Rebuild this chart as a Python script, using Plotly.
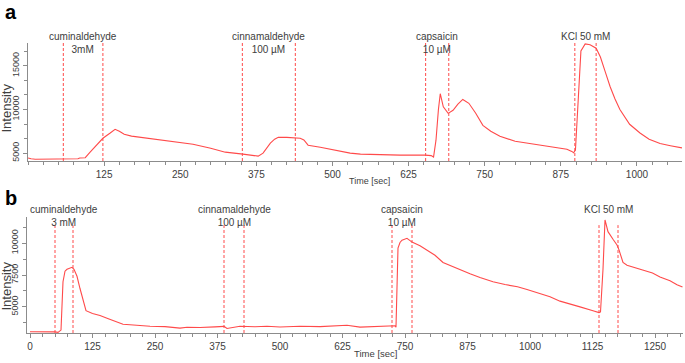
import plotly.graph_objects as go

# ---------------- data ----------------
a_time = [0, 5, 12, 40, 70, 82, 85, 94, 102, 112, 123, 135, 143, 150, 158, 170, 184, 210, 242, 271,
          300, 324, 353, 370, 378, 386, 392, 398, 405, 411, 425, 439, 447, 453, 460, 480, 505, 529,
          546, 580, 611, 652, 662, 666, 670, 674, 677, 682, 690, 698, 706, 714, 724, 735, 747, 760,
          775, 800, 829, 860, 885, 893, 896, 899, 903, 908, 915, 923, 933, 940, 948, 956, 964, 972,
          988, 1005, 1020, 1038, 1055, 1074]
a_intensity = [4450, 4350, 4300, 4330, 4350, 4360, 4450, 4480, 5110, 5900, 6700, 7300, 7730, 7500,
               7160, 6950, 6820, 6600, 6360, 6020, 5550, 5110, 4890, 4750, 4660, 5000, 5600, 6140,
               6600, 6820, 6800, 6700, 6700, 6500, 5910, 5680, 5350, 5000, 4890, 4820, 4770, 4770,
               4720, 4550, 6480, 10000, 11800, 10300, 9550, 9900, 10600, 11140, 10700, 9600, 8180,
               7500, 6930, 6350, 6020, 5700, 5450, 5200, 5050, 5340, 11020, 16700, 17500, 17400,
               17000, 16000, 14300, 12600, 11200, 10000, 8300, 7300, 6600, 6100, 5850, 5600]

b_time = [0, 20, 50, 56, 60, 62, 66, 70, 74, 80, 84, 88, 94, 100, 106, 112, 125, 140, 158, 174, 186,
          200, 240, 270, 300, 314, 340, 370, 388, 394, 400, 420, 450, 474, 500, 540, 580, 634, 660,
          700, 724, 730, 732, 734, 736, 740, 744, 754, 764, 780, 794, 810, 826, 840, 860, 880, 900,
          926, 950, 975, 994, 1020, 1040, 1060, 1080, 1100, 1126, 1138, 1141, 1146, 1150, 1156,
          1166, 1174, 1178, 1182, 1186, 1194, 1210, 1226, 1245, 1260, 1280, 1294, 1305]
b_intensity = [3050, 3060, 3040, 3000, 3100, 3180, 6970, 7800, 7950, 8050, 8100, 7950, 7400, 6440,
               5500, 4700, 4480, 4320, 4050, 3790, 3640, 3600, 3480, 3450, 3330, 3400, 3380, 3430,
               3470, 3300, 3330, 3480, 3440, 3480, 3420, 3480, 3450, 3560, 3410, 3440, 3480, 3520,
               3400, 6740, 9620, 10050, 10230, 10380, 10080, 9800, 9470, 9050, 8480, 8250, 7880,
               7600, 7300, 6970, 6750, 6580, 6360, 6050, 5800, 5450, 5250, 5000, 4700, 4550, 4600,
               7950, 11820, 10900, 10300, 9850, 9470, 9000, 8480, 8260, 8080, 7880, 7650, 7350,
               7050, 6740, 6550]

stim_labels_a = ["cuminaldehyde<br>3mM", "cinnamaldehyde<br>100 µM", "capsaicin<br>10 µM", "KCl 50 mM"]
stim_labels_b = ["cuminaldehyde<br>3 mM", "cinnamaldehyde<br>100 µM", "capsaicin<br>10 µM", "KCl 50 mM"]
stim_a = [(58, 123), (352, 439), (653, 691), (898, 933)]
stim_b = [(50, 86), (388, 428), (724, 764), (1138, 1176)]

a_xticks = [125, 250, 375, 500, 625, 750, 875, 1000]
b_xticks = [0, 125, 250, 375, 500, 625, 750, 875, 1000, 1125, 1250]
a_yticks = [5000, 10000, 15000]
b_yticks = [5000, 7500, 10000]

# ---------------- figure ----------------
W, H = 685, 363
RED = "#ff4a4a"
TXT = "#404040"
FONT = "Liberation Sans"

def px_x(p):
    return p / W

def px_y(p):
    return 1 - p / H

fig = go.Figure()
fig.add_trace(go.Scatter(x=a_time, y=a_intensity, mode="lines",
                         line=dict(color=RED, width=1.1), xaxis="x", yaxis="y",
                         showlegend=False, hoverinfo="skip"))
fig.add_trace(go.Scatter(x=b_time, y=b_intensity, mode="lines",
                         line=dict(color=RED, width=1.1), xaxis="x2", yaxis="y2",
                         showlegend=False, hoverinfo="skip"))

axis_common = dict(showline=True, linecolor="#8c8c8c", linewidth=1, showgrid=False,
                   zeroline=False, ticks="outside", ticklen=4, tickcolor="#8c8c8c",
                   tickformat="d")
xfont = dict(family=FONT, size=10, color=TXT)
yfont = dict(family=FONT, size=9, color=TXT)

fig.update_layout(
    width=W, height=H, margin=dict(l=0, r=0, t=0, b=0),
    plot_bgcolor="white", paper_bgcolor="white",
    xaxis=dict(domain=[px_x(28), px_x(682)], range=[0, 1074], anchor="y",
               tickmode="array", tickvals=a_xticks, tickfont=xfont,
               minor=dict(dtick=25, tick0=0, ticks="outside", ticklen=3, tickcolor="#8c8c8c"),
               **axis_common),
    yaxis=dict(domain=[px_y(161), px_y(43)], range=[4100, 17600], anchor="x",
               tickmode="array", tickvals=a_yticks, tickangle=-90, tickfont=yfont,
               minor=dict(dtick=5000 / 3, tick0=0, ticks="outside", ticklen=3, tickcolor="#8c8c8c"),
               **axis_common),
    xaxis2=dict(domain=[px_x(27), px_x(683)], range=[-6, 1306], anchor="y2",
                tickmode="array", tickvals=b_xticks, tickfont=xfont,
                minor=dict(dtick=25, tick0=0, ticks="outside", ticklen=3, tickcolor="#8c8c8c"),
                **axis_common),
    yaxis2=dict(domain=[px_y(333), px_y(217)], range=[2950, 12050], anchor="x2",
                tickmode="array", tickvals=b_yticks, tickangle=-90, tickfont=yfont,
                minor=dict(dtick=1250, tick0=0, ticks="outside", ticklen=3, tickcolor="#8c8c8c"),
                **axis_common),
)

shapes = []
annotations = []
for (t0, t1), lab in zip(stim_a, stim_labels_a):
    for t in (t0, t1):
        shapes.append(dict(type="line", xref="x", yref="y domain", x0=t, x1=t, y0=0, y1=1,
                           line=dict(color=RED, width=1, dash="3px,2px")))
    annotations.append(dict(xref="x", yref="paper", x=(t0 + t1) / 2, y=px_y(29),
                            yanchor="top", xanchor="center", text=lab, showarrow=False,
                            font=dict(family=FONT, size=10, color=TXT)))
for (t0, t1), lab in zip(stim_b, stim_labels_b):
    for t in (t0, t1):
        shapes.append(dict(type="line", xref="x2", yref="y2 domain", x0=t, x1=t, y0=0, y1=0.93,
                           line=dict(color=RED, width=1, dash="3px,2px")))
    annotations.append(dict(xref="x2", yref="paper", x=(t0 + t1) / 2, y=px_y(202),
                            yanchor="top", xanchor="center", text=lab, showarrow=False,
                            font=dict(family=FONT, size=10, color=TXT)))

# axis titles and panel letters
def label(x, y, text, size, color=TXT, angle=0):
    return dict(xref="paper", yref="paper", x=px_x(x), y=px_y(y), text=text, textangle=angle,
                xanchor="center", yanchor="middle", showarrow=False,
                font=dict(family=FONT, size=size, color=color))

annotations += [
    label(5.5, 108, "Intensity", 13, angle=-90),
    label(5.5, 286, "Intensity", 13, angle=-90),
    label(369, 181, "Time [sec]", 9),
    label(375, 353, "Time [sec]", 9.5),
    label(11, 12, "<b>a</b>", 20, color="black"),
    label(11, 198, "<b>b</b>", 20, color="black"),
]

fig.update_layout(shapes=shapes, annotations=annotations)
fig.write_html("out.html", config={"displayModeBar": False},
               post_script="document.body.style.margin='0';")
